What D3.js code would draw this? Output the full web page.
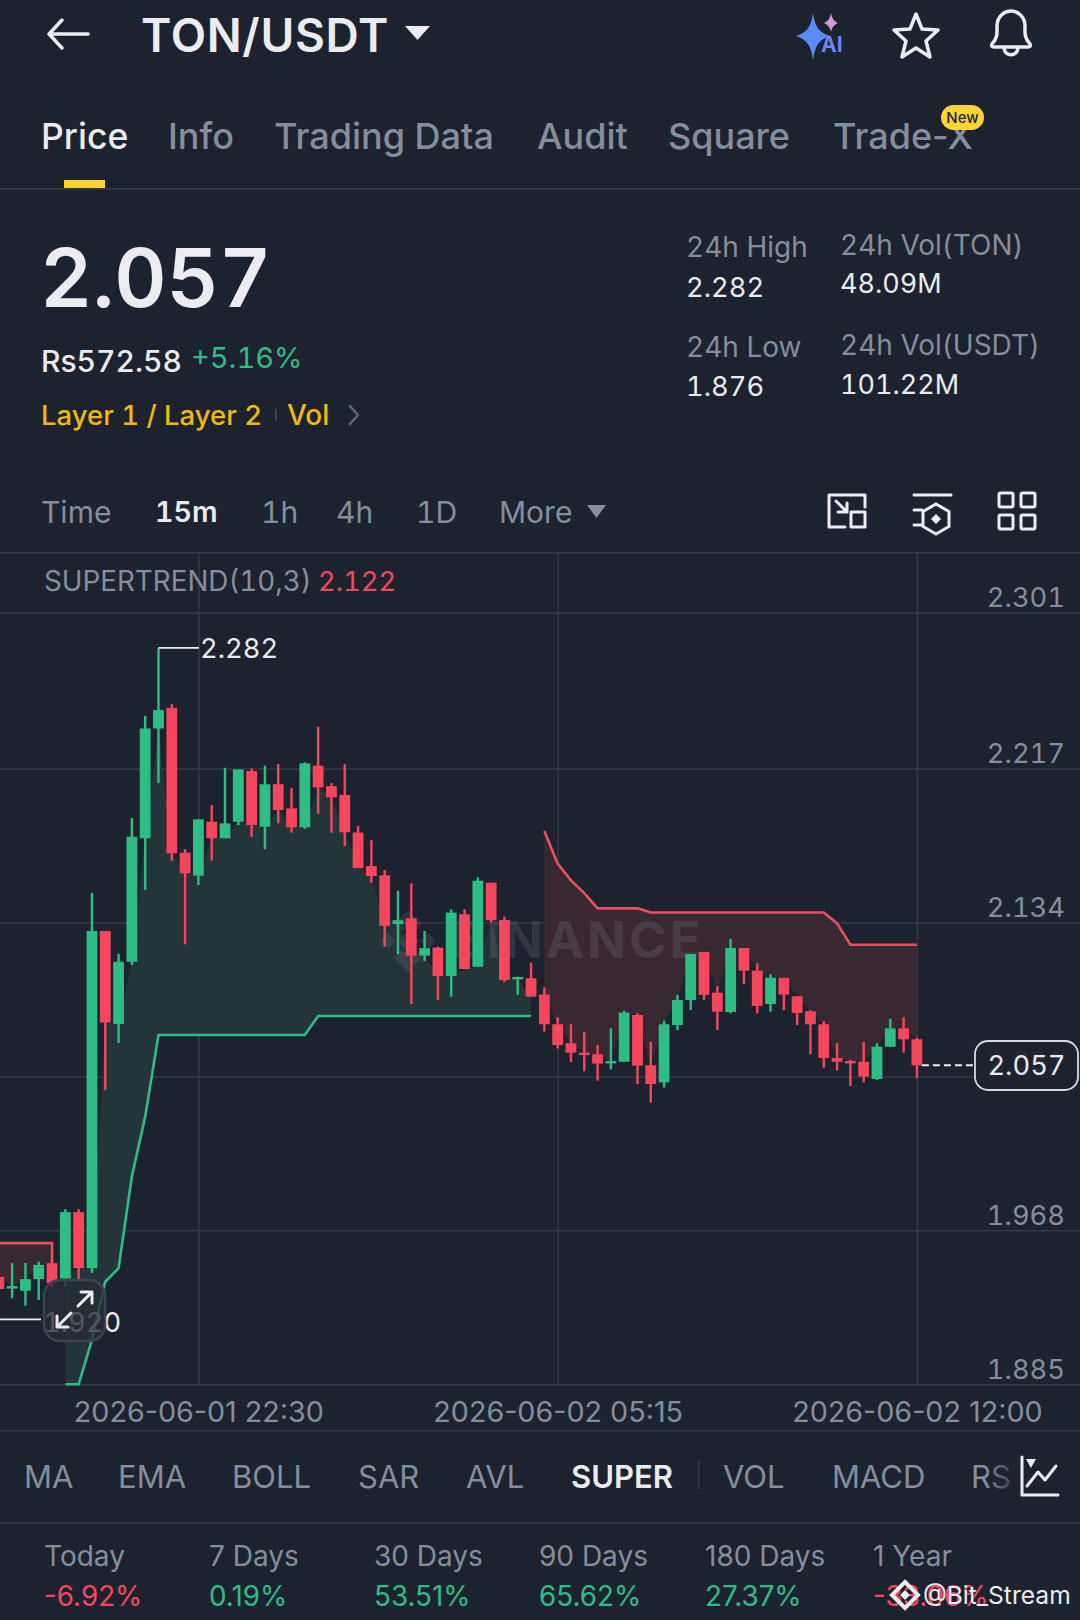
<!DOCTYPE html>
<html>
<head>
<meta charset="utf-8">
<script src="https://cdn.jsdelivr.net/npm/d3@7"></script>
<style>
  html, body { margin: 0; padding: 0; background: #1d232e; }
  svg { display: block; font-family: Inter, "Noto Sans", sans-serif; }
  .num { font-variant-numeric: tabular-nums; }
</style>
</head>
<body>
<div class="chart"></div>
<script>
// candles, oldest first, 15 minutes apart
const firstCandle = new Date(Date.UTC(2026, 5, 1, 18, 45));
const opens = [1.9429,1.9366,1.9354,1.9417,1.9503,1.9420,1.9778,1.9476,2.1294,2.0793,2.1128,2.1794,2.2386,2.2497,2.1716,
  2.1592,2.1883,2.1794,2.1883,2.2156,2.1856,2.2085,2.1955,2.1853,2.2185,2.2075,2.2027,2.1825,2.1644,2.1594,
  2.1332,2.1362,2.1161,2.1204,2.1051,2.1384,2.1101,2.1554,2.1353,2.1034,2.1039,2.0951,2.0791,2.0689,2.0638,
  2.0629,2.0581,2.0589,2.0841,2.0570,2.0478,2.0787,2.0922,2.1181,2.0961,2.0857,2.1202,2.1080,2.0900,2.1041,
  2.0942,2.0861,2.0791,2.0609,2.0593,2.0589,2.0496,2.0670,2.0769,2.0710];
const closes = [1.9364,1.9380,1.9417,1.9494,1.9395,1.9778,1.9476,2.1294,2.0800,2.1128,2.1802,2.2386,2.2485,2.1713,2.1605,
  2.1896,2.1794,2.1874,2.2165,2.1865,2.2085,2.1946,2.1853,2.2198,2.2068,2.2015,2.1826,2.1633,2.1590,2.1322,
  2.1352,2.1161,2.1201,2.1051,2.1393,2.1089,2.1565,2.1352,2.1030,2.1046,2.0940,2.0791,2.0679,2.0638,2.0626,
  2.0579,2.0593,2.0854,2.0568,2.0469,2.0791,2.0922,2.1170,2.0949,2.0859,2.1202,2.1080,2.0890,2.1042,2.0951,
  2.0852,2.0791,2.0609,2.0589,2.0581,2.0509,2.0670,2.0769,2.0710,2.0570];
const highs = [1.9467,1.9503,1.9504,1.9511,1.9508,1.9794,1.9794,2.1500,2.1294,2.1170,2.1903,2.2454,2.2820,2.2516,2.1735,
  2.1896,2.1973,2.2174,2.2165,2.2171,2.2185,2.2194,2.2064,2.2203,2.2395,2.2091,2.2194,2.1861,2.1784,2.1623,
  2.1511,2.1551,2.1294,2.1209,2.1411,2.1411,2.1583,2.1554,2.1371,2.1048,2.1123,2.0990,2.0829,2.0791,2.0750,
  2.0679,2.0769,2.0863,2.0850,2.0697,2.0810,2.0949,2.1170,2.1181,2.0997,2.1251,2.1202,2.1120,2.1061,2.1041,
  2.0942,2.0868,2.0807,2.0689,2.0599,2.0697,2.0689,2.0820,2.0829,2.0719];
const lows = [1.9200,1.9314,1.9274,1.9305,1.9375,1.9377,1.9417,1.9451,2.0437,2.0690,2.1111,2.1515,2.2091,2.1673,2.1222,
  2.1542,2.1673,2.1794,2.1865,2.1802,2.1735,2.1874,2.1824,2.1845,2.1925,2.1824,2.1752,2.1633,2.1554,2.1209,
  2.1170,2.0900,2.1132,2.0922,2.0940,2.1089,2.1101,2.1341,2.1019,2.0949,2.0940,2.0751,2.0660,2.0588,2.0538,
  2.0487,2.0548,2.0589,2.0469,2.0368,2.0449,2.0760,2.0868,2.0922,2.0760,2.0850,2.1008,2.0850,2.0859,2.0868,
  2.0787,2.0629,2.0557,2.0541,2.0458,2.0478,2.0491,2.0670,2.0638,2.0500];

// supertrend value per candle
const superTrend = [1.9611,1.9611,1.9611,1.9611,1.9611,1.8850,1.8850,1.9089,1.9403,1.9476,1.9970,2.0293,2.0733,2.0733,2.0733,
  2.0733,2.0733,2.0733,2.0733,2.0733,2.0733,2.0733,2.0733,2.0733,2.0836,2.0836,2.0836,2.0836,2.0836,2.0836,
  2.0836,2.0836,2.0836,2.0836,2.0836,2.0836,2.0836,2.0836,2.0836,2.0836,2.0836,2.1833,2.1657,2.1567,2.1498,
  2.1416,2.1416,2.1416,2.1416,2.1394,2.1394,2.1394,2.1394,2.1394,2.1394,2.1394,2.1394,2.1394,2.1394,2.1394,
  2.1394,2.1394,2.1394,2.1335,2.1220,2.1220,2.1220,2.1220,2.1220,2.1220];
const trendStarts = [0, 5, 41, 70];   // candle index where supertrend flips
const trendUp = [false, true, false];

const priceTicks = [2.301, 2.217, 2.134, 2.051, 1.968, 1.885];
const timeTicks = [new Date(Date.UTC(2026, 5, 1, 22, 30)), new Date(Date.UTC(2026, 5, 2, 5, 15)), new Date(Date.UTC(2026, 5, 2, 12, 0))];
const highLabel = 2.282, lowLabel = 1.920, lastPrice = 2.057;

// page texts
const tabs = ["Price", "Info", "Trading Data", "Audit", "Square", "Trade-X"];
const ranges = ["Time", "15m", "1h", "4h", "1D", "More"];
const indicators = ["MA", "EMA", "BOLL", "SAR", "AVL", "SUPER", "VOL", "MACD", "RS"];
const periods = ["Today", "7 Days", "30 Days", "90 Days", "180 Days", "1 Year"];
const periodValues = ["-6.92%", "0.19%", "53.51%", "65.62%", "27.37%", "-33.06%"];

const Up = "#2ebd85", Down = "#f6465d", Grey = "#848e9c", White = "#eaecef", Bg = "#1d232e", Grid = "#343a45", Gold = "#f0b90b";
const Width = 1080, Height = 1620;
const candleData = opens.map((o, k) => ({
  k: k, date: new Date(+firstCandle + k * 15 * 60000), open: o, close: closes[k], high: highs[k], low: lows[k], st: superTrend[k]
}));

const svg = d3.select(".chart").append("svg").attr("width", Width).attr("height", Height);
svg.append("rect").attr("width", Width).attr("height", Height).attr("fill", Bg);

const label = (x, y, txt, size, color, weight, anchor) => svg.append("text")
  .attr("x", x).attr("y", y).attr("dy", ".36em")
  .attr("fill", color).attr("font-size", size).attr("font-weight", weight || 400)
  .attr("text-anchor", anchor || "start").text(txt);
const num = (...args) => label(...args).attr("class", "num");

const hline = (y) => svg.append("rect").attr("x", 0).attr("y", y).attr("width", Width).attr("height", 1.5).attr("fill", Grid);

// header
const icon = (d, w) => svg.append("path").attr("d", d).attr("fill", "none").attr("stroke", White)
  .attr("stroke-width", w || 3.5).attr("stroke-linecap", "round").attr("stroke-linejoin", "round");
icon("M50 34H88M62 20L49 34L62 48");
label(141, 35, "TON/USDT", 46, White, 600).attr("letter-spacing", .7);
svg.append("path").attr("d", "M405 26H430L417.5 40Z").attr("fill", White);
svg.append("path").attr("d", "M813 13C815 28 820 33 830 36C820 39 815 45 813 60C811 45 806 39 796 36C806 33 811 28 813 13Z").attr("fill", "#5b8cf6");
svg.append("path").attr("d", "M831 13C832 19 834 21 838 23C834 25 832 27 831 32C830 27 828 25 824 23C828 21 830 19 831 13Z").attr("fill", "#d59ad8");
label(821, 44, "AI", 21, "#6f86f0", 700);
icon("M916 14L922 29L938 30L926 41L930 57L916 48L902 57L906 41L894 30L910 29Z");
icon("M992 44C998 38 997 32 997 26C997 16 1005 11 1011 11C1017 11 1025 16 1025 26C1025 32 1024 38 1030 44C1031 46 1030 47 1028 47H994C992 47 991 46 992 44ZM1004 48C1005 57 1017 57 1018 48");

// tabs
const tabX = [41, 168, 274, 537, 668, 833];
tabs.forEach((t, i) => label(tabX[i], 136, t, i == 0 ? 35.5 : 36, i == 0 ? White : Grey, 500));
svg.append("rect").attr("x", 64).attr("y", 180).attr("width", 41).attr("height", 8).attr("fill", "#fcd535");
hline(188);
svg.append("rect").attr("x", 941).attr("y", 105).attr("width", 43).attr("height", 25).attr("rx", 12.5).attr("fill", "#fcd535");
label(962.5, 117.5, "New", 15, "#1e2329", 500, "middle");

// price block
num(40, 278, "2.057", 81, White, 600);
num(41, 361, "Rs572.58", 30, White, 500);
num(191, 358, "+5.16%", 29, Up, 400);
num(41, 415, "Layer 1 / Layer 2", 27.5, Gold, 500);
svg.append("rect").attr("x", 275).attr("y", 409).attr("width", 1.5).attr("height", 12).attr("fill", "#474d57");
label(287, 415, "Vol", 28, Gold, 500);
svg.append("path").attr("d", "M349 405L358 415L349 425").attr("fill", "none").attr("stroke", "#5e6673").attr("stroke-width", 2.5);

num(686, 247, "24h High", 28, Grey);
num(686, 287, "2.282", 27.3, White);
num(686, 347, "24h Low", 28, Grey);
num(686, 386, "1.876", 27.3, White);
num(840, 245, "24h Vol(TON)", 28, Grey);
num(840, 283, "48.09M", 27, White);
num(840, 345, "24h Vol(USDT)", 28, Grey);
num(840, 384, "101.22M", 27, White);

// interval row
const rangeX = [41, 155, 261, 336, 416, 499];
ranges.forEach((t, i) => num(rangeX[i], 512, t, i == 1 ? 28.5 : 30, i == 1 ? White : Grey, i == 1 ? 600 : 400));
svg.append("path").attr("d", "M587 505H606L596.5 518Z").attr("fill", Grey);
icon("M847 495H865V507M829 507V495H847M829 507V527H845M851 512H865V527H851ZM836 501L847 512M838 512H847V503", 3);
svg.append("path").attr("d", "M936 504L949 511.500V526.500L936 534L923 526.500V511.500Z").attr("fill", "none").attr("stroke", White).attr("stroke-width", 3);
svg.append("path").attr("d", "M936 514L941 519L936 524L931 519Z").attr("fill", White);
icon("M914 495H951M914 510H922M914 525H922", 3);
[999, 1021].forEach(x => [493, 515].forEach(y => svg.append("rect").attr("x", x).attr("y", y).attr("width", 14).attr("height", 14)
  .attr("rx", 1.5).attr("fill", "none").attr("stroke", White).attr("stroke-width", 3)));
hline(552);

// chart
const x = d3.scaleUtc().domain([timeTicks[0], timeTicks[2]]).range([198.4, 916.9]);
const y = d3.scaleLinear().domain([1.885, 2.301]).range([1384.3, 612.7]);

const yAxis = svg.append("g").attr("transform", "translate(" + Width + ",0)")
  .call(d3.axisLeft(y).tickValues(priceTicks).tickFormat(d3.format(".3f")).tickSizeInner(Width).tickSizeOuter(0));
yAxis.select(".domain").remove();
yAxis.selectAll("line").attr("stroke", Grid).attr("stroke-width", 1.5);
yAxis.selectAll("text").attr("class", "num").attr("x", -15).attr("dy", "-.21em").attr("fill", Grey).attr("font-size", 27.3).attr("font-family", "Inter");

const xAxis = svg.append("g").attr("transform", "translate(0," + y(1.885) + ")")
  .call(d3.axisBottom(x).tickValues(timeTicks).tickFormat(d3.utcFormat("%Y-%m-%d %H:%M")).tickSizeInner(-(y(1.885) - 553)).tickSizeOuter(0).tickPadding(17));
xAxis.select(".domain").remove();
xAxis.selectAll("line").attr("stroke", Grid).attr("stroke-width", 1.5);
xAxis.selectAll("text").attr("fill", Grey).attr("font-size", 28.7).attr("font-family", "Inter");

hline(1430);

num(44, 581, "SUPERTREND(10,3)", 27.8, Grey);
num(318, 581, "2.122", 27.3, Down);

// supertrend band, filled up to the near edge of the candle bodies
const segments = trendUp.map((up, s) => ({ up: up, rows: candleData.slice(trendStarts[s], trendStarts[s + 1]) }));
const bodyEdge = (d, up) => up ? Math.min(d.open, d.close) : Math.max(d.open, d.close);

segments.forEach(seg => {
  const band = d3.area().x(d => x(d.date)).y0(d => y(d.st)).y1(d => y(bodyEdge(d, seg.up)));
  svg.append("path").datum(seg.rows).attr("fill", seg.up ? "#243539" : "#382832").attr("d", band);
});

// watermark
svg.append("text").attr("x", 450).attr("y", 958).attr("font-size", 51).attr("font-weight", 700).attr("letter-spacing", 3)
  .attr("fill", "#ffffff").attr("fill-opacity", .09).text("BINANCE");
svg.append("g").attr("fill", "#ffffff").attr("fill-opacity", .08).selectAll("path")
  .data(["M408 910L422 924L414 932L408 926L402 932L394 924Z", "M380 941L388 933L396 941L388 949Z", "M436 941L428 933L420 941L428 949Z",
         "M408 930L419 941L408 952L397 941Z", "M408 972L394 958L402 950L408 956L414 950L422 958Z"])
  .join("path").attr("d", d => d);

segments.forEach((seg, s) => {
  const rows = seg.rows;
  const line = d3.line().x(d => x(d.date)).y(d => y(d.st));
  // first stretch drops onto the candle where it flips
  const path = s == 0 ? line(rows) + "V" + y(bodyEdge(rows[rows.length - 1], false)) : line(rows);
  svg.append("path").attr("d", path).attr("fill", "none").attr("stroke-width", 2.6)
    .attr("stroke", seg.up ? Up : "#e8505f");
});

// candles
const candles = svg.append("g").selectAll("g").data(candleData).join("g")
  .attr("fill", d => d.close >= d.open ? Up : Down);
candles.append("rect").attr("x", d => x(d.date) - 1.2).attr("width", 2.4)
  .attr("y", d => y(d.high)).attr("height", d => y(d.low) - y(d.high));
candles.append("rect").attr("x", d => x(d.date) - 5.4).attr("width", 10.8)
  .attr("y", d => y(Math.max(d.open, d.close)))
  .attr("height", d => Math.max(2.4, Math.abs(y(d.open) - y(d.close))));

// high / low markers
const highCandle = candleData[d3.greatest(d3.range(candleData.length), (a, b) => highs[a] - highs[b])];
svg.append("path").attr("d", "M" + x(highCandle.date) + " " + y(highLabel) + "H199").attr("stroke", White).attr("stroke-width", 1.8).attr("fill", "none");
num(200, y(highLabel), "2.282", 27.3, White);
svg.append("path").attr("d", "M0 " + y(lowLabel) + "H41").attr("stroke", White).attr("stroke-width", 1.8).attr("fill", "none");
num(43, y(lowLabel) + 3, "1.920", 27.3, White);

// last price
svg.append("path").attr("d", "M" + (x(timeTicks[2]) + 5) + " " + y(lastPrice) + "H975")
  .attr("stroke", White).attr("stroke-width", 1.8).attr("stroke-dasharray", "7 4").attr("fill", "none");
svg.append("rect").attr("x", 975).attr("y", 1041).attr("width", 103).attr("height", 49).attr("rx", 13)
  .attr("fill", Bg).attr("fill-opacity", .92).attr("stroke", "#d8dade").attr("stroke-width", 1.8);
num(1026.500, y(lastPrice), "2.057", 27.3, White, 400, "middle");

// expand button over the chart
svg.append("rect").attr("x", 44).attr("y", 1280).attr("width", 61).attr("height", 61).attr("rx", 16)
  .attr("fill", "#262b35").attr("fill-opacity", .78).attr("stroke", "#3d434e").attr("stroke-width", 2.5);
icon("M78 1306L92 1292M81 1292H92V1303M71 1313L57 1327M57 1316V1327H68", 3);

// indicator row
const indicatorX = [24, 118, 232, 358, 466, 571, 723, 832, 971];
indicators.forEach((t, i) => label(indicatorX[i], 1477, t, 31, i == 5 ? White : Grey, i == 5 ? 600 : 400));
svg.append("rect").attr("x", 698).attr("y", 1460).attr("width", 1.5).attr("height", 30).attr("fill", Grid);
const fade = svg.append("defs").append("linearGradient").attr("id", "fade");
fade.append("stop").attr("offset", 0).attr("stop-color", Bg).attr("stop-opacity", 0);
fade.append("stop").attr("offset", .4).attr("stop-color", Bg).attr("stop-opacity", 1);
svg.append("rect").attr("x", 985).attr("y", 1455).attr("width", 95).attr("height", 45).attr("fill", "url(#fade)");
icon("M1022 1457V1495H1058M1027 1486L1038 1472L1045 1480L1056 1466", 3);
svg.append("path").attr("d", "M1026 1459H1036L1031 1468Z").attr("fill", White);
hline(1522);

// period stats
const periodX = [44, 209, 374, 539, 705, 873];
periods.forEach((t, i) => label(periodX[i], 1556, t, 28, Grey));
periodValues.forEach((t, i) => label(periodX[i], 1596, t, 27.8, t[0] == "-" ? Down : Up));

// screenshot credit
svg.append("path").attr("d", "M905 1582L918 1595L905 1608L892 1595Z").attr("fill", "none").attr("stroke", White).attr("stroke-width", 4);
svg.append("path").attr("d", "M905 1590L910 1595L905 1600L900 1595Z").attr("fill", White);
label(923, 1595, "@Bit_Stream", 24.6, White);
</script>
</body>
</html>
